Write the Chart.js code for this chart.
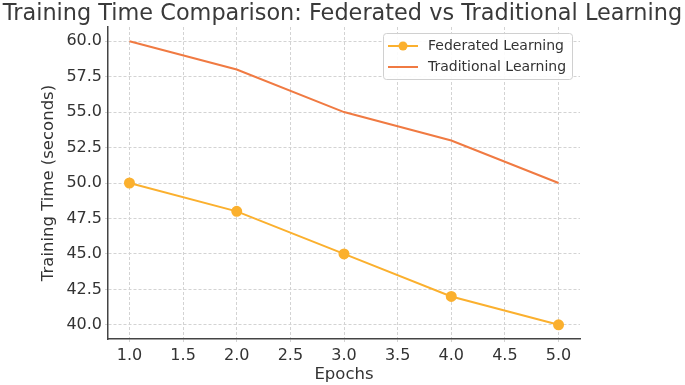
<!DOCTYPE html>
<html>
<head>
<meta charset="utf-8">
<script src="https://cdn.jsdelivr.net/npm/chart.js@4.4.1/dist/chart.umd.min.js"></script>
<style>
  body { margin: 0; background: #fff; }
  #wrap { width: 685px; height: 385px; position: relative; }
</style>
</head>
<body>
<div id="wrap"><canvas id="lineChartCanvas"></canvas></div>
<script>
// Data
const epochs = [1, 2, 3, 4, 5];
const federatedTimes = [50, 48, 45, 42, 40];
const traditionalTimes = [60, 58, 55, 53, 50];
const xTickValues = [1.0, 1.5, 2.0, 2.5, 3.0, 3.5, 4.0, 4.5, 5.0];
const yTickValues = [40.0, 42.5, 45.0, 47.5, 50.0, 52.5, 55.0, 57.5, 60.0];
const chartTitle = 'Training Time Comparison: Federated vs Traditional Learning';

const textColor = '#333333';
const fontFamily = '"DejaVu Sans", sans-serif';

// Title centred on the whole canvas (the built-in one is squeezed by the right padding)
const canvasTitle = {
    id: 'canvasTitle',
    afterDraw(chart) {
        const { ctx } = chart;
        ctx.save();
        ctx.fillStyle = '#3a3a3a';
        ctx.font = '22.4px ' + fontFamily;
        ctx.textAlign = 'center';
        ctx.textBaseline = 'middle';
        ctx.fillText(chartTitle, chart.width / 2, 14);
        ctx.restore();
    }
};

// Legend box drawn inside the plot area (top right)
const boxLegend = {
    id: 'boxLegend',
    afterDatasetsDraw(chart) {
        const { ctx, chartArea } = chart;
        const w = 189, h = 46;
        const x = chartArea.right - 8 - w;
        const y = chartArea.top + 6;
        ctx.save();
        ctx.fillStyle = 'rgba(255,255,255,0.9)';
        ctx.strokeStyle = '#d0d0d0';
        ctx.lineWidth = 1;
        ctx.beginPath();
        ctx.roundRect(x + 0.5, y + 0.5, w, h, 3);
        ctx.fill();
        ctx.stroke();
        chart.data.datasets.forEach((ds, i) => {
            const cy = y + 13 + i * 21;
            ctx.strokeStyle = ds.borderColor;
            ctx.lineWidth = 2;
            ctx.beginPath();
            ctx.moveTo(x + 5, cy);
            ctx.lineTo(x + 35, cy);
            ctx.stroke();
            if (ds.pointRadius > 0) {
                ctx.fillStyle = ds.borderColor;
                ctx.beginPath();
                ctx.arc(x + 20, cy, ds.pointRadius, 0, Math.PI * 2);
                ctx.fill();
            }
            ctx.fillStyle = textColor;
            ctx.font = '14px ' + fontFamily;
            ctx.textBaseline = 'middle';
            ctx.textAlign = 'left';
            ctx.fillText(ds.label, x + 45, cy);
        });
        ctx.restore();
    }
};

function createLineChart() {
    const ctx = document.getElementById('lineChartCanvas').getContext('2d');
    return new Chart(ctx, {
        type: 'line',
        data: {
            datasets: [{
                label: 'Federated Learning',
                data: epochs.map((e, i) => ({ x: e, y: federatedTimes[i] })),
                borderColor: '#fbb02e',
                backgroundColor: '#fbb02e',
                borderWidth: 2,
                pointRadius: 4.5,
                pointHoverRadius: 4.5,
                tension: 0
            }, {
                label: 'Traditional Learning',
                data: epochs.map((e, i) => ({ x: e, y: traditionalTimes[i] })),
                borderColor: '#f07a42',
                backgroundColor: '#f07a42',
                borderWidth: 2,
                pointRadius: 0,
                tension: 0
            }]
        },
        options: {
            responsive: true,
            maintainAspectRatio: false,
            animation: false,
            layout: { padding: { left: 0, right: 105, top: 27, bottom: 0 } },
            plugins: {
                legend: { display: false },
                tooltip: { enabled: false },
                title: { display: false }
            },
            scales: {
                x: {
                    type: 'linear',
                    min: 0.8,
                    max: 5.2,
                    afterBuildTicks: scale => { scale.ticks = xTickValues.map(v => ({ value: v })); },
                    afterFit: scale => { scale.height = 46; },
                    ticks: {
                        color: textColor,
                        font: { family: fontFamily, size: 16 },
                        padding: 4,
                        maxRotation: 0,
                        callback: v => Number(v).toFixed(1)
                    },
                    grid: { color: '#d3d3d3', tickLength: 3 },
                    border: { display: true, color: '#444', width: 1.5, dash: [3, 2] },
                    title: {
                        display: true,
                        text: 'Epochs',
                        color: textColor,
                        font: { family: fontFamily, size: 16.5 },
                        padding: { top: 0, bottom: 0 }
                    }
                },
                y: {
                    type: 'linear',
                    min: 39,
                    max: 61,
                    afterBuildTicks: scale => { scale.ticks = yTickValues.map(v => ({ value: v })); },
                    afterFit: scale => { scale.width = 108; },
                    ticks: {
                        color: textColor,
                        font: { family: fontFamily, size: 16 },
                        padding: 3,
                        callback: v => Number(v).toFixed(1)
                    },
                    grid: { color: '#d3d3d3', tickLength: 3 },
                    border: { display: true, color: '#444', width: 1.5, dash: [3, 2] },
                    title: {
                        display: true,
                        text: 'Training Time (seconds)',
                        color: textColor,
                        font: { family: fontFamily, size: 16.5 },
                        padding: { top: 39, bottom: 0 }
                    }
                }
            }
        },
        plugins: [boxLegend, canvasTitle]
    });
}

createLineChart();
</script>
</body>
</html>
